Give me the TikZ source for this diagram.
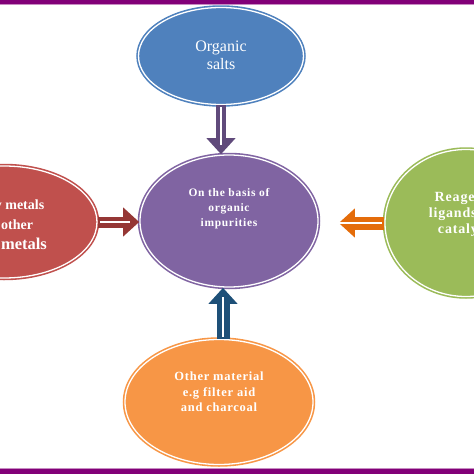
\documentclass[tikz,border=0pt]{standalone}
\usepackage{fontspec}
\setmainfont{Liberation Serif}
\newfontfamily\spaced[LetterSpace=6]{Liberation Serif}
\usepackage{xcolor}
\definecolor{salblue}{RGB}{79,129,189}
\definecolor{baspurple}{RGB}{128,100,162}
\definecolor{metred}{RGB}{192,80,77}
\definecolor{reagreen}{RGB}{155,187,89}
\definecolor{othorange}{RGB}{247,150,70}
\definecolor{arrpurple}{RGB}{96,74,123}
\definecolor{arrred}{RGB}{149,55,53}
\definecolor{arrorange}{RGB}{228,108,10}
\definecolor{arrblue}{RGB}{30,80,120}
\definecolor{barpurple}{RGB}{130,0,120}
\usepackage{tikz}
\usetikzlibrary{shapes.geometric, arrows.meta, calc}
\tikzset{
  bubble/.style={
    ellipse, draw=#1, fill=#1, line width=1.6pt,
    double=white, double distance=1.3pt,
    align=center, text=white, inner sep=0pt},
  fatarr/.style={
    draw=#1, line width=11pt,
    -{Triangle[width=28pt, length=16pt]},
    postaction={draw=white, line width=1.6pt, -,
      shorten <=2pt, shorten >=9pt}},
}

\begin{document}
\begin{tikzpicture}[x=1pt, y=-1pt]
  \useasboundingbox (0,0) rectangle (474,474);
  % frame bars
  \fill[barpurple] (0,0) rectangle (474,4);
  \fill[barpurple!45] (0,4) rectangle (474,5);
  \fill[barpurple!45] (0,468) rectangle (474,469);
  \fill[barpurple] (0,469) rectangle (474,474);
  % bubbles
  \node[bubble=baspurple, minimum width=178pt, minimum height=132pt] (basis)
    at (229,221) {};
  \node[font=\spaced\bfseries\fontsize{11.5}{15}\selectfont, text=white,
        align=center] (basistxt) at (229,209)
    {On the basis of\\organic\\impurities};
  \node[bubble=salblue, minimum width=165pt, minimum height=97pt] (org)
    at (221,56) {};
  \node[font=\fontsize{16}{18}\selectfont, text=white, align=center]
    (orgtxt) at (221,55) {Organic\\salts};
  \node[bubble=metred, minimum width=186pt, minimum height=112pt] (heavy)
    at (4,222) {};
  \node[font=\bfseries\fontsize{14}{20}\selectfont, text=white,
        align=center] (heavytxt) at (4,225)
    {Heavy metals\\and other\\{\fontsize{16.5}{20}\selectfont trace metals}};
  \node[bubble=reagreen, minimum width=162pt, minimum height=147pt] (reag)
    at (466,223) {};
  \node[font=\spaced\bfseries\fontsize{14}{16}\selectfont, text=white,
        align=center] (reagtxt) at (467,214)
    {Reagents,\\ligands and\\catalysts};
  \node[bubble=othorange, minimum width=188pt, minimum height=125pt] (other)
    at (219,402) {};
  \node[font=\spaced\bfseries\fontsize{12.5}{15.5}\selectfont, text=white,
        align=center] (othertxt) at (219,392)
    {Other material\\e.g filter aid\\and charcoal};
  % arrows
  \draw[fatarr=arrpurple, line width=10pt] (org.south)
    -- (org.south |- basis.north);
  \draw[fatarr=arrred] (heavy.east) -- (heavy.east -| basis.west);
  \draw[fatarr=arrorange, line width=13pt, shorten >=20pt] (reag.west)
    -- (reag.west -| basis.east);
  \draw[fatarr=arrblue, line width=13pt] ($(other.north)+(4,0)$)
    -- ($(other.north |- basis.south)+(4,0)$);
\end{tikzpicture}
\end{document}
